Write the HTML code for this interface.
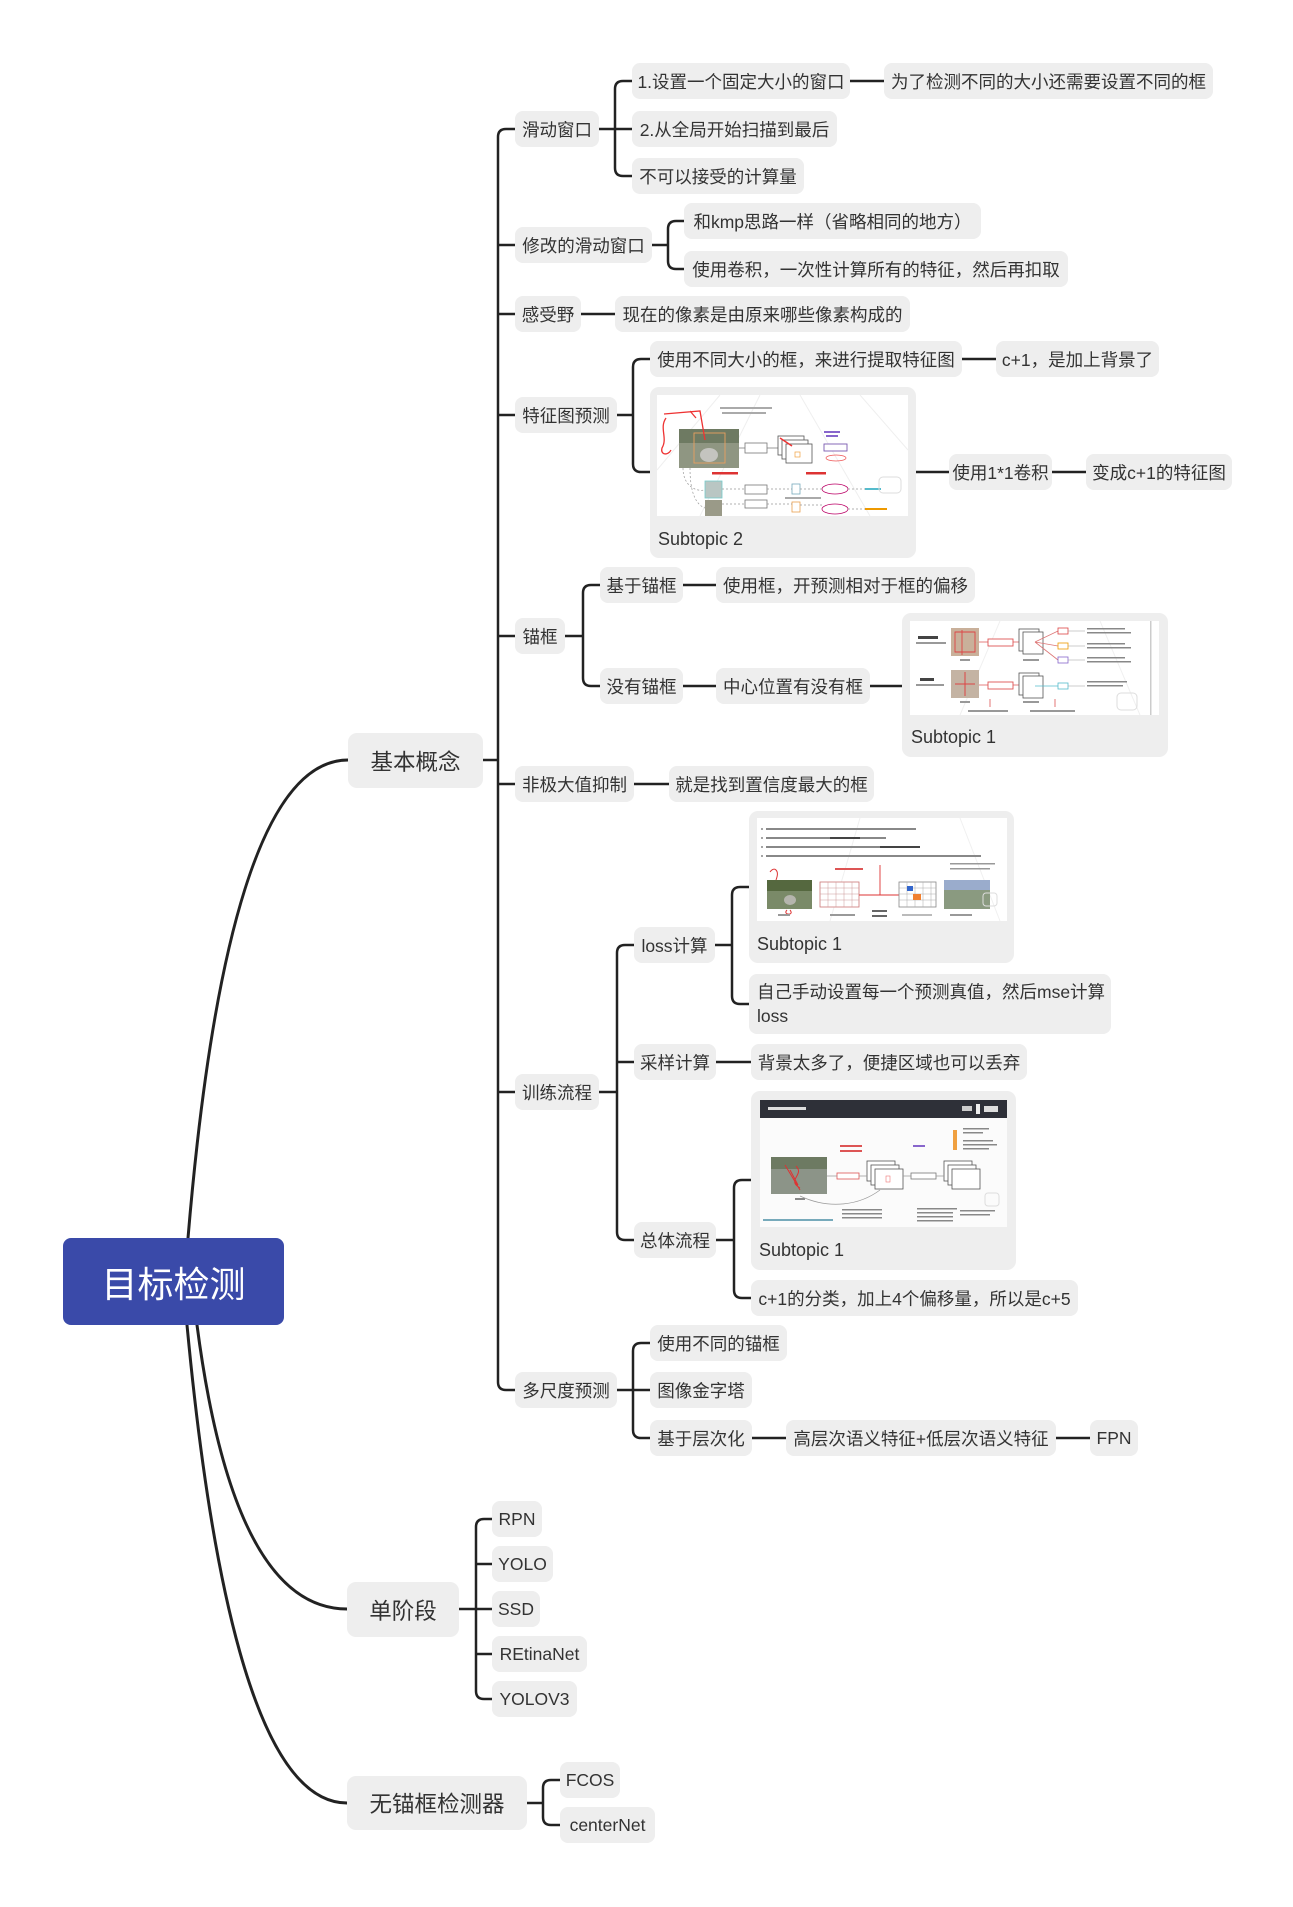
<!DOCTYPE html>
<html>
<head>
<meta charset="utf-8">
<style>
html,body{margin:0;padding:0;background:#fff;}
body{width:1293px;height:1907px;position:relative;overflow:hidden;font-family:"Liberation Sans","Noto Sans CJK SC",sans-serif;}
svg{position:absolute;left:0;top:0;}
.n{position:absolute;background:#eeeeee;border-radius:8px;color:#333;font-size:17.5px;height:36px;display:flex;align-items:center;justify-content:center;white-space:nowrap;font-family:"Liberation Sans","Noto Sans CJK SC",sans-serif;}
.l1{font-size:22.5px;border-radius:9px;}
.root{background:#3a4aa9;color:#fff;font-size:36px;border-radius:8px;}
.img{position:absolute;background:#eeeeee;border-radius:9px;}
.cap{position:absolute;color:#333;font-size:18px;font-family:"Liberation Sans",sans-serif;white-space:nowrap;line-height:20px;}
</style>
</head>
<body>
<svg width="1293" height="1907" style="z-index:0">
<g fill="none" stroke="#222" stroke-width="3" stroke-linecap="round">
<path d="M188,1238 Q228,760 348,760"/>
<path d="M197,1325 Q234,1609 347,1609"/>
<path d="M187,1325 Q232,1803 347,1803"/>
</g>
<g fill="none" stroke="#222" stroke-width="2.5">
<path d="M515,129 H506 Q498,129 498,137 V1382 Q498,1390 506,1390 H515"/>
<path d="M498,245H515 M498,314H515 M498,415H515 M498,636H515 M498,784H515 M498,1092H515 M483,760H498"/>
<path d="M632,81 H623 Q615,81 615,89 V168 Q615,176 623,176 H632 M615,129H632 M599,129H615 M850,81H884"/>
<path d="M684,221 H676 Q668,221 668,229 V261 Q668,269 676,269 H684 M652,245H668"/>
<path d="M581,314H615"/>
<path d="M650,359 H641 Q633,359 633,367 V464 Q633,472 641,472 H650 M617,415H633 M962,359H996 M916,472H949 M1052,472H1086"/>
<path d="M600,585 H591 Q583,585 583,593 V678 Q583,686 591,686 H600 M565,636H583 M683,585H716 M683,686H716 M870,686H902"/>
<path d="M634,784H669"/>
<path d="M634,945 H625 Q617,945 617,953 V1232 Q617,1240 625,1240 H634 M617,1062H634 M599,1092H617"/>
<path d="M749,887 H740 Q732,887 732,895 V996 Q732,1004 740,1004 H749 M715,945H732"/>
<path d="M716,1062H751"/>
<path d="M751,1180 H742 Q734,1180 734,1188 V1290 Q734,1298 742,1298 H751 M716,1240H734"/>
<path d="M650,1343 H641 Q633,1343 633,1351 V1430 Q633,1438 641,1438 H650 M633,1390H650 M617,1390H633 M752,1438H786 M1056,1438H1090"/>
<path d="M492,1519 H484 Q476,1519 476,1527 V1691 Q476,1699 484,1699 H492 M476,1564H492 M476,1609H492 M476,1654H492 M459,1609H476"/>
<path d="M560,1780 H551 Q543,1780 543,1788 V1817 Q543,1825 551,1825 H560 M527,1803H543"/>
</g>
</svg>

<div class="n root" style="left:63px;top:1238px;width:221px;height:87px;">目标检测</div>

<div class="n l1" style="left:348px;top:733px;width:135px;height:55px;">基本概念</div>
<div class="n l1" style="left:347px;top:1582px;width:112px;height:55px;">单阶段</div>
<div class="n l1" style="left:347px;top:1776px;width:180px;height:54px;">无锚框检测器</div>

<div class="n" style="left:515px;top:111px;width:84px;">滑动窗口</div>
<div class="n" style="left:515px;top:227px;width:137px;">修改的滑动窗口</div>
<div class="n" style="left:515px;top:296px;width:66px;">感受野</div>
<div class="n" style="left:515px;top:397px;width:102px;">特征图预测</div>
<div class="n" style="left:515px;top:618px;width:50px;">锚框</div>
<div class="n" style="left:515px;top:766px;width:119px;">非极大值抑制</div>
<div class="n" style="left:515px;top:1074px;width:84px;">训练流程</div>
<div class="n" style="left:515px;top:1372px;width:102px;">多尺度预测</div>

<div class="n" style="left:632px;top:63px;width:218px;">1.设置一个固定大小的窗口</div>
<div class="n" style="left:884px;top:63px;width:329px;">为了检测不同的大小还需要设置不同的框</div>
<div class="n" style="left:632px;top:111px;width:205px;">2.从全局开始扫描到最后</div>
<div class="n" style="left:632px;top:158px;width:172px;">不可以接受的计算量</div>
<div class="n" style="left:684px;top:203px;width:297px;">和kmp思路一样（省略相同的地方）</div>
<div class="n" style="left:684px;top:251px;width:384px;">使用卷积，一次性计算所有的特征，然后再扣取</div>
<div class="n" style="left:615px;top:296px;width:295px;">现在的像素是由原来哪些像素构成的</div>
<div class="n" style="left:650px;top:341px;width:312px;">使用不同大小的框，来进行提取特征图</div>
<div class="n" style="left:996px;top:341px;width:163px;">c+1，是加上背景了</div>
<div class="img" style="left:650px;top:387px;width:266px;height:171px;"></div>
<div class="cap" style="left:658px;top:529px;">Subtopic 2</div>
<div class="n" style="left:949px;top:454px;width:103px;">使用1*1卷积</div>
<div class="n" style="left:1086px;top:454px;width:146px;">变成c+1的特征图</div>

<div class="n" style="left:600px;top:567px;width:83px;">基于锚框</div>
<div class="n" style="left:716px;top:567px;width:259px;">使用框，开预测相对于框的偏移</div>
<div class="n" style="left:600px;top:668px;width:83px;">没有锚框</div>
<div class="n" style="left:716px;top:668px;width:154px;">中心位置有没有框</div>
<div class="img" style="left:902px;top:613px;width:266px;height:144px;"></div>
<div class="cap" style="left:911px;top:727px;">Subtopic 1</div>

<div class="n" style="left:669px;top:766px;width:205px;">就是找到置信度最大的框</div>

<div class="n" style="left:634px;top:927px;width:81px;">loss计算</div>
<div class="img" style="left:749px;top:811px;width:265px;height:152px;"></div>
<div class="cap" style="left:757px;top:934px;">Subtopic 1</div>
<div class="n" style="left:749px;top:974px;width:362px;height:60px;justify-content:flex-start;"><div style="padding-left:8px;line-height:24px;">自己手动设置每一个预测真值，然后mse计算<br>loss</div></div>
<div class="n" style="left:634px;top:1044px;width:82px;">采样计算</div>
<div class="n" style="left:751px;top:1044px;width:276px;">背景太多了，便捷区域也可以丢弃</div>
<div class="n" style="left:634px;top:1222px;width:82px;">总体流程</div>
<div class="img" style="left:751px;top:1091px;width:265px;height:179px;"></div>
<div class="cap" style="left:759px;top:1240px;">Subtopic 1</div>
<div class="n" style="left:751px;top:1280px;width:327px;">c+1的分类，加上4个偏移量，所以是c+5</div>

<div class="n" style="left:650px;top:1325px;width:137px;">使用不同的锚框</div>
<div class="n" style="left:650px;top:1372px;width:102px;">图像金字塔</div>
<div class="n" style="left:650px;top:1420px;width:102px;">基于层次化</div>
<div class="n" style="left:786px;top:1420px;width:270px;">高层次语义特征+低层次语义特征</div>
<div class="n" style="left:1090px;top:1420px;width:48px;">FPN</div>

<div class="n" style="left:492px;top:1501px;width:50px;">RPN</div>
<div class="n" style="left:492px;top:1546px;width:61px;">YOLO</div>
<div class="n" style="left:492px;top:1591px;width:48px;">SSD</div>
<div class="n" style="left:492px;top:1636px;width:95px;">REtinaNet</div>
<div class="n" style="left:492px;top:1681px;width:85px;">YOLOV3</div>
<div class="n" style="left:560px;top:1762px;width:60px;">FCOS</div>
<div class="n" style="left:560px;top:1807px;width:95px;">centerNet</div>

<svg width="1293" height="1907" style="z-index:2;pointer-events:none">
<g>
<rect x="657" y="395" width="251" height="121" fill="#fff"/>
<path d="M760,395 L700,516 M800,395 L870,516 M657,470 L720,395 M860,395 L908,450" stroke="#efefef" stroke-width="1" fill="none"/>
<rect x="720" y="407" width="52" height="2" fill="#aaa"/>
<rect x="722" y="412" width="44" height="2" fill="#aaa"/>
<rect x="679" y="429" width="60" height="39" fill="#8f9682"/>
<rect x="679" y="429" width="60" height="14" fill="#6e7a62"/>
<ellipse cx="709" cy="455" rx="9" ry="7" fill="#c4c4bf"/>
<rect x="694" y="433" width="31" height="30" fill="none" stroke="#e8a060" stroke-width="0.9"/>
<path d="M664,414 L700,411 L705,440 M666,418 C659,428 668,438 662,448 C660,455 668,456 671,450 M690,411 L696,418" stroke="#e33" fill="none" stroke-width="1.3"/>
<path d="M683,468 C683,485 695,492 705,490 M690,468 C690,495 697,505 705,508" stroke="#999" stroke-dasharray="2,2" fill="none" stroke-width="0.7"/>
<rect x="745" y="443" width="22" height="10" fill="#fff" stroke="#777" stroke-width="0.8"/>
<path d="M739,448 H745 M767,448 H778" stroke="#777" stroke-width="0.7"/>
<rect x="778" y="436" width="26" height="19" fill="#fff" stroke="#555" stroke-width="0.8"/>
<rect x="782" y="440" width="26" height="19" fill="#fff" stroke="#555" stroke-width="0.8"/>
<rect x="786" y="444" width="26" height="19" fill="#fff" stroke="#555" stroke-width="0.8"/>
<rect x="795" y="452" width="5" height="5" fill="none" stroke="#f0a040" stroke-width="0.7"/>
<path d="M780,438 L792,446" stroke="#e33" stroke-width="1.5"/>
<rect x="824" y="431" width="16" height="2" fill="#86c"/>
<rect x="826" y="435" width="12" height="2" fill="#86c"/>
<rect x="824" y="444" width="23" height="7" fill="#fff" stroke="#7a5ab0" stroke-width="0.9"/>
<ellipse cx="836" cy="458" rx="10" ry="3" fill="none" stroke="#e55" stroke-width="0.7"/>
<rect x="712" y="472" width="26" height="2.5" fill="#d33"/>
<rect x="806" y="472" width="20" height="2.5" fill="#d33"/>
<rect x="705" y="481" width="17" height="17" fill="#b9c6c3" stroke="#7cc" stroke-width="0.8"/>
<rect x="745" y="485" width="22" height="9" fill="#fff" stroke="#777" stroke-width="0.8"/>
<rect x="792" y="484" width="8" height="10" fill="none" stroke="#7ab" stroke-width="0.8"/>
<ellipse cx="835" cy="489" rx="13" ry="5" fill="none" stroke="#b06" stroke-width="0.8"/>
<rect x="865" y="488" width="16" height="2" fill="#5bc"/>
<rect x="785" y="497" width="36" height="2" fill="#aaa"/>
<rect x="705" y="500" width="17" height="16" fill="#9a9a88"/>
<rect x="745" y="500" width="22" height="8" fill="#fff" stroke="#777" stroke-width="0.8"/>
<rect x="792" y="502" width="8" height="10" fill="none" stroke="#e9a050" stroke-width="0.8"/>
<ellipse cx="835" cy="509" rx="13" ry="5" fill="none" stroke="#b06" stroke-width="0.8"/>
<rect x="865" y="508" width="22" height="2" fill="#e90"/>
<path d="M722,489 H745 M767,489 H792 M800,489 H822 M848,489 H865 M722,504 H745 M767,504 H792 M800,505 H822 M848,509 H865" stroke="#999" stroke-dasharray="2,2" stroke-width="0.7"/>
<rect x="879" y="477" width="22" height="16" rx="4" fill="none" stroke="#ddd" stroke-width="1"/>
</g>
<g>
<rect x="910" y="621" width="249" height="94" fill="#fff"/>
<path d="M1000,621 L960,715 M1100,621 L1140,715" stroke="#f0f0f0" fill="none"/>
<rect x="1150" y="621" width="1.5" height="94" fill="#ccc"/>
<rect x="918" y="636" width="20" height="3" fill="#444"/>
<rect x="916" y="642" width="30" height="2" fill="#999"/>
<rect x="920" y="678" width="14" height="3" fill="#444"/>
<rect x="916" y="684" width="28" height="2" fill="#999"/>
<rect x="951" y="628" width="28" height="28" fill="#c9b09a"/>
<path d="M955,632 L975,632 L975,652 L955,652 Z M962,630 V655" stroke="#d44" fill="none" stroke-width="0.9"/>
<rect x="951" y="670" width="28" height="28" fill="#c4b3a3"/>
<path d="M965,672 V696 M955,684 H975" stroke="#d44" stroke-width="1"/>
<rect x="960" y="659" width="10" height="2" fill="#999"/>
<rect x="960" y="701" width="10" height="2" fill="#999"/>
<path d="M979,642 H988 M1013,642 H1019 M979,685 H988 M1013,685 H1019" stroke="#d55" stroke-width="0.8"/>
<rect x="988" y="639" width="25" height="7" fill="#fff" stroke="#d55" stroke-width="0.9"/>
<rect x="988" y="682" width="25" height="7" fill="#fff" stroke="#d55" stroke-width="0.9"/>
<rect x="1019" y="629" width="20" height="22" fill="#fff" stroke="#555" stroke-width="0.8"/>
<rect x="1023" y="632" width="20" height="22" fill="#fff" stroke="#555" stroke-width="0.8"/>
<rect x="1019" y="673" width="20" height="22" fill="#fff" stroke="#555" stroke-width="0.8"/>
<rect x="1023" y="676" width="20" height="22" fill="#fff" stroke="#555" stroke-width="0.8"/>
<rect x="1023" y="659" width="16" height="2" fill="#999"/>
<rect x="1023" y="701" width="16" height="2" fill="#999"/>
<path d="M1035,642 L1058,631 M1035,642 L1058,646 M1035,642 L1058,660" stroke-width="0.8" stroke="#d77" fill="none"/>
<path d="M1035,686 H1058" stroke="#5bc" stroke-width="0.8"/>
<rect x="1058" y="628" width="10" height="6" fill="#fff" stroke="#d44" stroke-width="0.8"/>
<rect x="1058" y="643" width="10" height="6" fill="#fff" stroke="#e90" stroke-width="0.8"/>
<rect x="1058" y="657" width="10" height="6" fill="#fff" stroke="#86c" stroke-width="0.8"/>
<rect x="1058" y="683" width="10" height="6" fill="#fff" stroke="#5bc" stroke-width="0.8"/>
<path d="M1068,631 H1085 M1068,646 H1085 M1068,660 H1085 M1068,686 H1085" stroke="#999" stroke-width="0.6"/>
<g fill="#888">
<rect x="1087" y="628" width="38" height="1.5"/><rect x="1087" y="632" width="44" height="1.5"/>
<rect x="1087" y="643" width="38" height="1.5"/><rect x="1087" y="647" width="44" height="1.5"/>
<rect x="1087" y="657" width="38" height="1.5"/><rect x="1087" y="661" width="44" height="1.5"/>
<rect x="1087" y="681" width="40" height="1.5"/><rect x="1087" y="685" width="36" height="1.5"/>
</g>
<rect x="968" y="710" width="40" height="2" fill="#999"/>
<rect x="1030" y="710" width="45" height="2" fill="#999"/>
<path d="M990,699 V707 M1055,699 V707" stroke="#d55" stroke-width="0.8"/>
<rect x="1117" y="693" width="20" height="17" rx="4" fill="none" stroke="#ddd"/>
</g>
<g>
<rect x="757" y="818" width="250" height="103" fill="#fff"/>
<path d="M860,818 L830,921 M960,818 L1000,921" stroke="#f0f0f0" fill="none"/>
<g fill="#888">
<circle cx="762" cy="829" r="1"/><rect x="766" y="828" width="150" height="2"/>
<circle cx="762" cy="838" r="1"/><rect x="766" y="837" width="120" height="2"/>
<circle cx="762" cy="847" r="1"/><rect x="766" y="846" width="140" height="2"/>
<circle cx="762" cy="856" r="1"/><rect x="766" y="855" width="215" height="2"/>
</g>
<rect x="830" y="837" width="30" height="2" fill="#444"/>
<rect x="880" y="846" width="40" height="2" fill="#444"/>
<rect x="950" y="863" width="45" height="1.5" fill="#999"/>
<rect x="950" y="868" width="40" height="1.5" fill="#999"/>
<rect x="835" y="868" width="28" height="2" fill="#d55"/>
<rect x="767" y="880" width="45" height="29" fill="#7a8a68"/>
<rect x="767" y="880" width="45" height="11" fill="#55683f"/>
<ellipse cx="790" cy="900" rx="6" ry="5" fill="#b5b5ad"/>
<path d="M770,872 C774,866 780,870 776,880 M787,910 C782,915 795,916 790,910" stroke="#d33" fill="none" stroke-width="1"/>
<rect x="820" y="882" width="39" height="25" fill="#fff" stroke="#c77" stroke-width="0.8"/>
<path d="M828,882V907 M836,882V907 M844,882V907 M852,882V907 M820,888H859 M820,894H859 M820,900H859" stroke="#c99" stroke-width="0.5"/>
<path d="M859,895 H899 M880,865 V895" stroke="#d33" stroke-width="0.9"/>
<rect x="899" y="882" width="37" height="25" fill="#fff" stroke="#888" stroke-width="0.8"/>
<path d="M907,882V907 M915,882V907 M923,882V907 M931,882V907 M899,888H936 M899,894H936 M899,900H936" stroke="#aaa" stroke-width="0.5"/>
<rect x="907" y="886" width="6" height="5" fill="#3366cc"/>
<rect x="913" y="894" width="8" height="6" fill="#f08030"/>
<rect x="944" y="880" width="46" height="29" fill="#8a9a80"/>
<rect x="944" y="880" width="46" height="10" fill="#9aaccc"/>
<rect x="778" y="914" width="12" height="2" fill="#999"/>
<rect x="830" y="914" width="25" height="2" fill="#999"/>
<rect x="872" y="910" width="15" height="2" fill="#666"/>
<rect x="872" y="915" width="15" height="2" fill="#666"/>
<rect x="902" y="914" width="30" height="2" fill="#bbb"/>
<rect x="950" y="914" width="22" height="2" fill="#999"/>
<rect x="983" y="893" width="14" height="13" rx="3" fill="none" stroke="#ddd"/>
</g>
<g>
<rect x="760" y="1100" width="247" height="127" fill="#fbfbfb"/>
<rect x="760" y="1100" width="247" height="18" fill="#2e3038"/>
<rect x="768" y="1107" width="38" height="3" fill="#ddd"/>
<rect x="962" y="1106" width="10" height="5" fill="#ccc"/>
<rect x="976" y="1104" width="4" height="10" fill="#eee"/>
<rect x="984" y="1106" width="14" height="6" fill="#ddd"/>
<rect x="771" y="1157" width="56" height="37" fill="#8c9488"/>
<rect x="771" y="1157" width="56" height="12" fill="#6d7a62"/>
<path d="M785,1165 L800,1190 M790,1170 L798,1185 M796,1166 C805,1175 786,1180 800,1188" stroke="#d33" fill="none" stroke-width="1"/>
<rect x="837" y="1173" width="22" height="6" fill="#fff" stroke="#d55" stroke-width="0.8"/>
<rect x="840" y="1145" width="22" height="2" fill="#d55"/>
<rect x="840" y="1150" width="22" height="2" fill="#d55"/>
<rect x="867" y="1161" width="28" height="20" fill="#fff" stroke="#555" stroke-width="0.8"/>
<rect x="871" y="1165" width="28" height="20" fill="#fff" stroke="#555" stroke-width="0.8"/>
<rect x="875" y="1169" width="28" height="20" fill="#fff" stroke="#555" stroke-width="0.8"/>
<rect x="886" y="1176" width="4" height="6" fill="none" stroke="#e77" stroke-width="0.6"/>
<rect x="913" y="1145" width="12" height="2" fill="#86c"/>
<rect x="911" y="1173" width="25" height="6" fill="#fff" stroke="#777" stroke-width="0.8"/>
<rect x="944" y="1161" width="28" height="20" fill="#fff" stroke="#555" stroke-width="0.8"/>
<rect x="948" y="1165" width="28" height="20" fill="#fff" stroke="#555" stroke-width="0.8"/>
<rect x="952" y="1169" width="28" height="20" fill="#fff" stroke="#555" stroke-width="0.8"/>
<rect x="953" y="1130" width="4" height="20" fill="#f0a040"/>
<g fill="#888">
<rect x="963" y="1128" width="26" height="1.5"/><rect x="963" y="1132" width="20" height="1.5"/>
<rect x="963" y="1140" width="30" height="1.5"/><rect x="963" y="1144" width="34" height="1.5"/><rect x="963" y="1148" width="26" height="1.5"/>
<rect x="842" y="1209" width="40" height="1.5"/><rect x="842" y="1213" width="40" height="1.5"/><rect x="842" y="1217" width="40" height="1.5"/>
<rect x="917" y="1208" width="40" height="1.5"/><rect x="917" y="1212" width="36" height="1.5"/><rect x="917" y="1216" width="36" height="1.5"/><rect x="917" y="1220" width="36" height="1.5"/>
<rect x="960" y="1210" width="35" height="1.5"/><rect x="960" y="1214" width="30" height="1.5"/>
<rect x="795" y="1198" width="10" height="2"/>
</g>
<path d="M827,1176 H837 M859,1176 H867 M903,1176 H911 M936,1176 H944 M800,1196 C830,1210 860,1205 880,1190" stroke="#999" stroke-width="0.7" fill="none"/>
<rect x="763" y="1219" width="70" height="2" fill="#7ab"/>
<rect x="985" y="1193" width="14" height="13" rx="3" fill="none" stroke="#ddd"/>
</g>
</svg>
</body>
</html>
